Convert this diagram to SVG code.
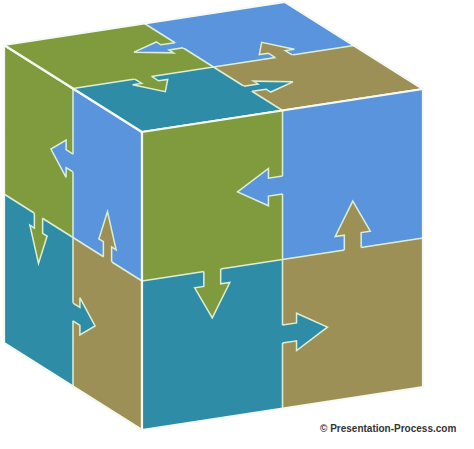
<svg xmlns="http://www.w3.org/2000/svg" width="474" height="449" viewBox="0 0 474 449">
<style>
.ol{fill:#7f9b3d}
.bl{fill:#5a94dd}
.te{fill:#2f8ca6}
.ta{fill:#9d9056}
.seam{fill:none;stroke:#dcefd6;stroke-width:1.5;stroke-linejoin:miter;vector-effect:non-scaling-stroke}
.edge{fill:none;stroke:#f4faf2;stroke-width:2.2;stroke-linejoin:round;vector-effect:non-scaling-stroke}
.copy{font-family:"Liberation Sans",Arial,sans-serif;font-size:10px;font-weight:bold;fill:#333}
</style>
<rect width="474" height="449" fill="#ffffff"/>

<g id="left-face" transform="matrix(0.69,0.435,0,1.49,4,45)">
  <rect id="left-olive" class="ol" x="0" y="0" width="100" height="100"/>
  <rect id="left-blue" class="bl" x="100" y="0" width="100" height="100"/>
  <rect id="left-teal" class="te" x="0" y="100" width="100" height="100"/>
  <rect id="left-tan" class="ta" x="100" y="100" width="100" height="100"/>
  <path class="seam" d="M100 0V200M0 100H200"/>
  <path class="bl" d="M103 44H90V37.5L68 50L90 62.5V56H103Z"/>
  <path class="seam" d="M100 44H90V37.5L68 50L90 62.5V56H100"/>
  <path class="ta" d="M144 103V90H137.5L150 68L162.5 90H156V103Z"/>
  <path class="seam" d="M144 100V90H137.5L150 68L162.5 90H156V100"/>
  <path class="ol" d="M44 97V110H37.5L50 132L62.5 110H56V97Z"/>
  <path class="seam" d="M44 100V110H37.5L50 132L62.5 110H56V100"/>
  <path class="te" d="M97 144H110V137.5L132 150L110 162.5V156H97Z"/>
  <path class="seam" d="M100 144H110V137.5L132 150L110 162.5V156H100"/>
  <rect class="edge" x="0" y="0" width="200" height="200"/>
</g>

<g id="top-face" transform="matrix(1.405,-0.215,0.69,0.435,4,45)">
  <rect id="top-olive" class="ol" x="0" y="0" width="100" height="100"/>
  <rect id="top-blue" class="bl" x="100" y="0" width="100" height="100"/>
  <rect id="top-teal" class="te" x="0" y="100" width="100" height="100"/>
  <rect id="top-tan" class="ta" x="100" y="100" width="100" height="100"/>
  <path class="seam" d="M100 0V200M0 100H200"/>
  <path class="bl" d="M103 44H90V37.5L68 50L90 62.5V56H103Z"/>
  <path class="seam" d="M100 44H90V37.5L68 50L90 62.5V56H100"/>
  <path class="ta" d="M144 103V90H137.5L150 68L162.5 90H156V103Z"/>
  <path class="seam" d="M144 100V90H137.5L150 68L162.5 90H156V100"/>
  <path class="ol" d="M44 97V110H37.5L50 132L62.5 110H56V97Z"/>
  <path class="seam" d="M44 100V110H37.5L50 132L62.5 110H56V100"/>
  <path class="te" d="M97 144H110V137.5L132 150L110 162.5V156H97Z"/>
  <path class="seam" d="M100 144H110V137.5L132 150L110 162.5V156H100"/>
  <rect class="edge" x="0" y="0" width="200" height="200"/>
</g>

<g id="front-face" transform="matrix(1.405,-0.215,0,1.49,142,132)">
  <rect id="front-olive" class="ol" x="0" y="0" width="100" height="100"/>
  <rect id="front-blue" class="bl" x="100" y="0" width="100" height="100"/>
  <rect id="front-teal" class="te" x="0" y="100" width="100" height="100"/>
  <rect id="front-tan" class="ta" x="100" y="100" width="100" height="100"/>
  <path class="seam" d="M100 0V200M0 100H200"/>
  <path class="bl" d="M103 44H90V37.5L68 50L90 62.5V56H103Z"/>
  <path class="seam" d="M100 44H90V37.5L68 50L90 62.5V56H100"/>
  <path class="ta" d="M144 103V90H137.5L150 68L162.5 90H156V103Z"/>
  <path class="seam" d="M144 100V90H137.5L150 68L162.5 90H156V100"/>
  <path class="ol" d="M44 97V110H37.5L50 132L62.5 110H56V97Z"/>
  <path class="seam" d="M44 100V110H37.5L50 132L62.5 110H56V100"/>
  <path class="te" d="M97 144H110V137.5L132 150L110 162.5V156H97Z"/>
  <path class="seam" d="M100 144H110V137.5L132 150L110 162.5V156H100"/>
  <rect class="edge" x="0" y="0" width="200" height="200"/>
</g>

<g id="connectors"></g>

<text id="copyright" class="copy" x="320" y="432">© Presentation-Process.com</text>
</svg>
